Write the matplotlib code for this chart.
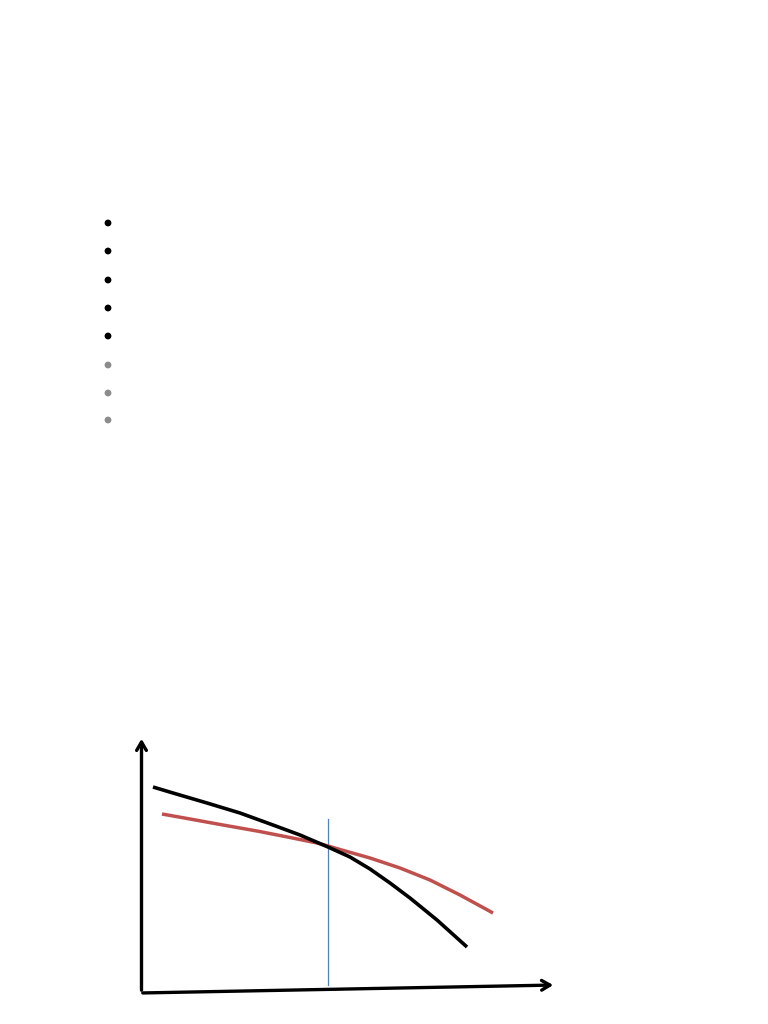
import matplotlib
matplotlib.use("Agg")
import matplotlib.pyplot as plt

# bullet markers (slide positions in pixels)
bullet_y = [223, 251, 280, 308, 336, 365, 393, 420]
bullet_colors = ["black"] * 5 + ["#8c8c8c"] * 3

# the two curves (pixel coords)
black_x = [153, 173, 207, 240, 273, 300, 328, 350, 370, 390, 410, 437, 467]
black_y = [787, 793, 803, 813, 825, 835, 847, 857, 869, 883, 898, 920, 947]
red_x = [162, 190, 223, 257, 290, 317, 328, 340, 370, 400, 430, 460, 493]
red_y = [814, 819, 825, 831, 837.5, 843, 846, 849.5, 858, 868, 880, 895, 913]

vline_x = 328
vline_y = (819, 985)

fig = plt.figure(figsize=(7.68, 10.24), dpi=100)
ax = fig.add_axes([0, 0, 1, 1])
ax.set_xlim(0, 768)
ax.set_ylim(1024, 0)
ax.axis("off")

ax.scatter([108] * len(bullet_y), bullet_y, s=24, c=bullet_colors, edgecolors="none")

# axes of the sketch
arrow = dict(arrowstyle="->,head_length=0.6,head_width=0.35", lw=2.4, color="black")
ax.annotate("", xy=(141.5, 736), xytext=(141.5, 993), arrowprops=arrow)
ax.annotate("", xy=(556, 985), xytext=(140, 993), arrowprops=arrow)

ax.plot([vline_x, vline_x], vline_y, color="#4f81bd", lw=0.9)
ax.plot(red_x, red_y, color="#c0504d", lw=2.5, solid_capstyle="butt", solid_joinstyle="round")
ax.plot(black_x, black_y, color="black", lw=2.6, solid_capstyle="butt", solid_joinstyle="round")

fig.savefig("out.png", dpi=100, facecolor="white")
